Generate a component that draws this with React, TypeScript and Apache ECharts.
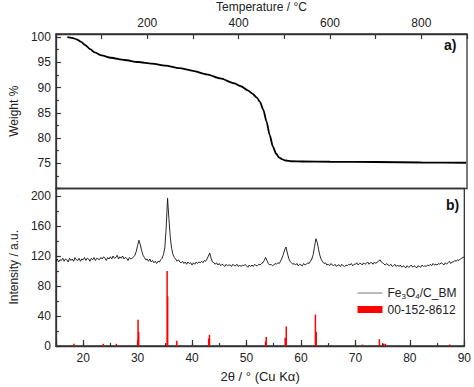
import React, { useEffect, useRef } from 'react';
import * as echarts from 'echarts';

// TGA (panel a)
const tempC = [25, 35, 45, 55, 65, 75, 85, 100, 120, 150, 180, 210, 240, 270, 300, 330, 360, 390, 405, 420, 430, 440, 447, 454, 461, 468, 475, 482, 489, 496, 503, 515, 540, 600, 700, 800, 898];
const weightPct = [100.0, 99.85, 99.55, 99.05, 98.35, 97.6, 96.95, 96.35, 95.9, 95.45, 95.05, 94.75, 94.35, 93.85, 93.3, 92.6, 91.8, 90.85, 90.25, 89.45, 88.8, 88.0, 87.1, 85.6, 83.3, 80.6, 78.3, 76.9, 76.1, 75.75, 75.55, 75.4, 75.35, 75.3, 75.25, 75.15, 75.1];

// XRD (panel b): 2θ from 15 to 90 in 0.25° steps
const xrdStart = 15;
const xrdStep = 0.25;
const xrdIntensity = [
  113, 116, 112, 115, 114, 117, 113, 116, 115, 112, 117, 114, 116, 113, 118, 115,
  114, 117, 113, 116, 115, 118, 114, 117, 116, 113, 117, 115, 118, 114, 117, 116,
  115, 118, 116, 119, 117, 114, 118, 116, 119, 116, 120, 117, 118, 121, 116, 119,
  117, 120, 116, 118, 117, 114, 118, 116, 117, 119, 121, 126, 134, 141, 135, 127,
  121, 118, 115, 116, 113, 116, 112, 114, 111, 113, 110, 113, 112, 115, 117, 122,
  131, 158, 197, 170, 145, 130, 122, 118, 116, 113, 115, 112, 111, 113, 110, 112,
  109, 112, 110, 111, 108, 111, 109, 112, 110, 112, 111, 113, 111, 114, 113, 116,
  120, 124, 117, 112, 111, 109, 111, 108, 110, 107, 109, 108, 106, 109, 107, 108,
  108, 106, 109, 107, 107, 109, 106, 108, 106, 108, 107, 109, 107, 105, 108, 106,
  108, 106, 109, 107, 107, 109, 108, 110, 111, 114, 118, 114, 110, 108, 109, 107,
  108, 110, 109, 111, 110, 113, 117, 122, 128, 132, 124, 117, 113, 111, 109, 110,
  108, 110, 107, 109, 108, 107, 110, 108, 109, 111, 110, 113, 116, 122, 133, 143,
  138, 128, 120, 115, 112, 110, 111, 108, 109, 107, 110, 108, 107, 109, 106, 108,
  108, 106, 109, 107, 106, 108, 107, 109, 108, 110, 107, 109, 109, 111, 108, 110,
  110, 108, 111, 109, 110, 112, 109, 111, 111, 109, 112, 110, 112, 113, 115, 112,
  111, 109, 108, 110, 108, 107, 109, 106, 107, 109, 106, 108, 106, 108, 105, 107,
  106, 104, 107, 105, 106, 108, 105, 107, 106, 104, 107, 106, 105, 108, 106, 107,
  106, 108, 107, 109, 107, 110, 108, 109, 108, 110, 109, 111, 110, 108, 111, 109,
  111, 113, 110, 112, 112, 114, 113, 115, 114, 116, 117, 118, 119,
];

// Reference pattern 00-152-8612
const refTheta = [18.3, 23.7, 26.1, 30.08, 30.2, 35.42, 35.52, 37.2, 43.05, 43.2, 53.5, 53.62, 57.1, 57.3, 62.65, 62.8, 71.3, 74.4, 75.2, 75.5, 87.3];
const refIntensity = [3, 3, 3, 35, 19, 100, 66, 7, 10, 15, 6, 12, 11, 26, 42, 19, 2, 9, 3, 3, 2];

const tempLabels = [200, 400, 600, 800];
const weightLabels = [75, 80, 85, 90, 95, 100];
const intensityLabels = [0, 40, 80, 120, 160, 200];
const thetaLabels = [20, 30, 40, 50, 60, 70, 80, 90];

const FONT = '"Liberation Sans", Arial, sans-serif';
const AX = '#333';
const TXT = '#222';

export default function App() {
  const ref = useRef<HTMLDivElement>(null);
  useEffect(() => {
    if (!ref.current) return;
    const chart = echarts.init(ref.current, undefined, { renderer: 'svg' });
    const tga = tempC.map((t, i) => [t, weightPct[i]]);
    const xrd = xrdIntensity.map((v, i) => [xrdStart + i * xrdStep, v]);
    const refBars = refTheta.map((t, i) => [t, refIntensity[i]]);
    const labelStyle = { color: TXT, fontSize: 12, fontFamily: FONT };
    const nameStyle = { color: TXT, fontSize: 12, fontFamily: FONT };
    chart.setOption({
      animation: false,
      backgroundColor: '#fff',
      textStyle: { fontFamily: FONT },
      grid: [
        { left: 49, right: 7, top: 33, height: 155.5, show: true, borderColor: AX, borderWidth: 1.3, backgroundColor: 'transparent' },
        { left: 49, right: 7, top: 188.5, height: 157.5, show: true, borderColor: AX, borderWidth: 1.3, backgroundColor: 'transparent' },
      ],
      xAxis: [
        {
          gridIndex: 0, type: 'value', position: 'top', min: 0, max: 900, interval: 100,
          name: 'Temperature / °C', nameLocation: 'middle', nameGap: 21, nameTextStyle: nameStyle,
          axisLine: { show: true, lineStyle: { color: AX, width: 1.3 } },
          axisTick: { inside: true, length: 5, lineStyle: { color: AX, width: 1.2 } },
          axisLabel: { ...labelStyle, margin: 5, formatter: (v: number) => (tempLabels.includes(v) ? String(v) : '') },
          splitLine: { show: false },
        },
        {
          gridIndex: 1, type: 'value', position: 'bottom', min: 15, max: 90, minInterval: 10, maxInterval: 10,
          name: '2θ / ° (Cu Kα)', nameLocation: 'middle', nameGap: 24, nameTextStyle: { ...nameStyle, fontSize: 13 },
          axisLine: { show: true, lineStyle: { color: AX, width: 1.3 } },
          axisTick: { inside: true, length: 6, lineStyle: { color: AX, width: 1.2 } },
          axisLabel: { ...labelStyle, margin: 6, formatter: (v: number) => (thetaLabels.includes(v) ? String(v) : '') },
          splitLine: { show: false },
        },
        {
          gridIndex: 1, type: 'value', position: 'bottom', min: 15, max: 90, interval: 5,
          axisLine: { show: false },
          axisTick: { inside: true, length: 3, lineStyle: { color: AX, width: 1.2 } },
          axisLabel: { show: false },
          splitLine: { show: false },
        },
      ],
      yAxis: [
        {
          gridIndex: 0, type: 'value', min: 70, max: 100.6, interval: 5,
          name: 'Weight %', nameLocation: 'middle', nameGap: 33, nameTextStyle: nameStyle,
          axisLine: { show: true, lineStyle: { color: AX, width: 1.3 } },
          axisTick: { inside: true, length: 5, lineStyle: { color: AX, width: 1.2 } },
          minorTick: { show: true, splitNumber: 2, length: 3, lineStyle: { color: AX, width: 1.2 } },
          axisLabel: { ...labelStyle, margin: 5, formatter: (v: number) => (weightLabels.includes(v) ? String(v) : '') },
          splitLine: { show: false },
          minorSplitLine: { show: false },
        },
        {
          gridIndex: 1, type: 'value', min: 0, max: 210, interval: 40,
          name: 'Intensity / a.u.', nameLocation: 'middle', nameGap: 33, nameTextStyle: nameStyle,
          axisLine: { show: true, lineStyle: { color: AX, width: 1.3 } },
          axisTick: { inside: true, length: 5, lineStyle: { color: AX, width: 1.2 } },
          minorTick: { show: true, splitNumber: 2, length: 3, lineStyle: { color: AX, width: 1.2 } },
          axisLabel: { ...labelStyle, margin: 5, formatter: (v: number) => (intensityLabels.includes(v) ? String(v) : '') },
          splitLine: { show: false },
          minorSplitLine: { show: false },
        },
      ],
      legend: {
        orient: 'vertical', left: 352, top: 282, itemWidth: 25, itemHeight: 7, itemGap: 3,
        data: [
          { name: 'Fe3O4/C_BM', lineStyle: { color: '#777', width: 1 }, itemStyle: { opacity: 0 } },
          { name: '00-152-8612', icon: 'rect' },
        ],
        formatter: (n: string) => (n === 'Fe3O4/C_BM' ? '{a|Fe}{s|3}{a|O}{s|4}{a|/C_BM}' : '{a|' + n + '}'),
        textStyle: {
          color: TXT, fontSize: 12, fontFamily: FONT,
          rich: {
            a: { fontSize: 12, color: TXT, fontFamily: FONT },
            s: { fontSize: 8, color: TXT, fontFamily: FONT, padding: [7, 0, 0, 0] },
          },
        },
      },
      series: [
        {
          name: 'TGA', type: 'line', xAxisIndex: 0, yAxisIndex: 0, data: tga, smooth: 0.25, smoothMonotone: 'x',
          symbol: 'none', lineStyle: { color: '#000', width: 1.8 }, itemStyle: { color: '#000' },
        },
        {
          name: '00-152-8612', type: 'bar', xAxisIndex: 1, yAxisIndex: 1, data: refBars, barWidth: 1.5,
          itemStyle: { color: '#ff0000' },
        },
        {
          name: 'Fe3O4/C_BM', type: 'line', xAxisIndex: 1, yAxisIndex: 1, data: xrd,
          symbol: 'none', lineStyle: { color: '#111', width: 0.9 }, itemStyle: { color: '#111' },
        },
      ],
      graphic: [
        { type: 'text', left: 444, top: 38, style: { text: 'a)', fontSize: 14, fontWeight: 'bold', fill: '#111', fontFamily: FONT } },
        { type: 'text', left: 446, top: 198, style: { text: 'b)', fontSize: 14, fontWeight: 'bold', fill: '#111', fontFamily: FONT } },
      ],
    });
    return () => chart.dispose();
  }, []);
  return <div ref={ref} style={{ position: 'fixed', left: 0, top: 0, width: 474, height: 387, background: '#fff' }} />;
}
